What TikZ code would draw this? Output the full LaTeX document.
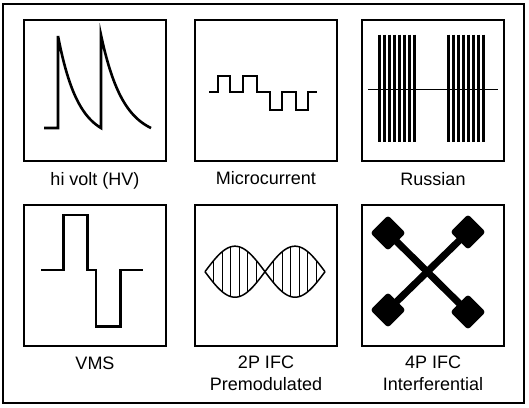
\documentclass[tikz,border=0pt]{standalone}
\usepackage{fontspec}
\setmainfont{Liberation Sans}
\begin{document}
\begin{tikzpicture}[x=1pt,y=-1pt,
  panel/.style={draw=black, line width=2pt, minimum width=142pt, minimum height=141pt, inner sep=0pt},
  lbl/.style={font=\fontsize{18}{22.5}\selectfont, align=center, anchor=base, inner sep=0pt},
  wave/.style={line width=2.6pt, line join=miter},
  thin/.style={line width=2pt}]
\useasboundingbox (0,0) rectangle (529,407);
\draw[line width=2pt] (3,4) rectangle (524,403);
% panels
\node[panel] (p1) at (95,90) {};
\node[panel] (p2) at (266,90) {};
\node[panel] (p3) at (433,90) {};
\node[panel] (p4) at (95,275.5) {};
\node[panel] (p5) at (266,275.5) {};
\node[panel] (p6) at (433,275.5) {};
% labels
\node[lbl] (l1) at (95,185) {hi volt (HV)};
\node[lbl] (l2) at (266,184) {Microcurrent};
\node[lbl] (l3) at (433,185) {Russian};
\node[lbl] (l4) at (95,369) {VMS};
\node[lbl] (l5) at (266,390.5) {2P IFC\\Premodulated};
\node[lbl] (l6) at (433,390.5) {4P IFC\\Interferential};
% HV
\draw[wave] (44,128) -- (58,128) -- (58,36)
  -- plot[domain=0:43,samples=40] ({58+\x},{36+92*(1-exp(-\x/20))/(1-exp(-43/20))})
  -- (101,35)
  -- plot[domain=0:50,samples=40] ({101+\x},{35+93*(1-exp(-\x/22))/(1-exp(-50/22))});
% Microcurrent
\draw[thin] (209.3,91.7) -- (218.3,91.7) -- (218.3,76) -- (230,76) -- (230,91.7)
  -- (243.3,91.7) -- (243.3,76) -- (256.7,76) -- (256.7,91.7) -- (270,91.7)
  -- (270,110) -- (281.7,110) -- (281.7,91.7) -- (296,91.7) -- (296,110)
  -- (308.3,110) -- (308.3,91.7) -- (317.3,91.7);
% Russian
\draw[line width=1.5pt] (368.3,89.3) -- (498.3,89.3);
\foreach \i in {0,...,7}{
  \draw[line width=2.5pt] ({379.3+5*\i},34.5) -- ({379.3+5*\i},141.7);
  \draw[line width=2.5pt] ({448.3+5*\i},34.5) -- ({448.3+5*\i},141.7);
}
% VMS
\draw[wave] (41,270) -- (63.3,270) -- (63.3,215) -- (87.7,215) -- (87.7,270)
  -- (96,270) -- (96,326.7) -- (120.7,326.7) -- (120.7,270) -- (143.3,270);
% 2P IFC
\draw[line width=1.5pt] plot[domain=205:325,samples=80] (\x,{271.7-25.5*sin(3*(\x-205))});
\draw[line width=1.5pt] plot[domain=205:325,samples=80] (\x,{271.7+25.5*sin(3*(\x-205))});
\foreach \k in {1,...,6}{
  \draw[line width=1.1pt] ({205+60/7*\k},{271.7-25.5*abs(sin(3*60/7*\k))}) -- ({205+60/7*\k},{271.7+25.5*abs(sin(3*60/7*\k))});
  \draw[line width=1.1pt] ({265+60/7*\k},{271.7-25.5*abs(sin(3*60/7*\k))}) -- ({265+60/7*\k},{271.7+25.5*abs(sin(3*60/7*\k))});
}
% 4P IFC
\coordinate (c) at (428.3,271);
\coordinate (tl) at (388,233);
\coordinate (tr) at (468,232);
\coordinate (bl) at (388,310);
\coordinate (br) at (468,312);
\draw[line width=7pt] (tl) -- (br);
\draw[line width=7pt] (tr) -- (bl);
\foreach \p in {tl,tr,bl,br}{
  \node[fill=black, minimum size=25pt, inner sep=0pt, rotate=45, rounded corners=3pt] at (\p) {};
}
\end{tikzpicture}
\end{document}
